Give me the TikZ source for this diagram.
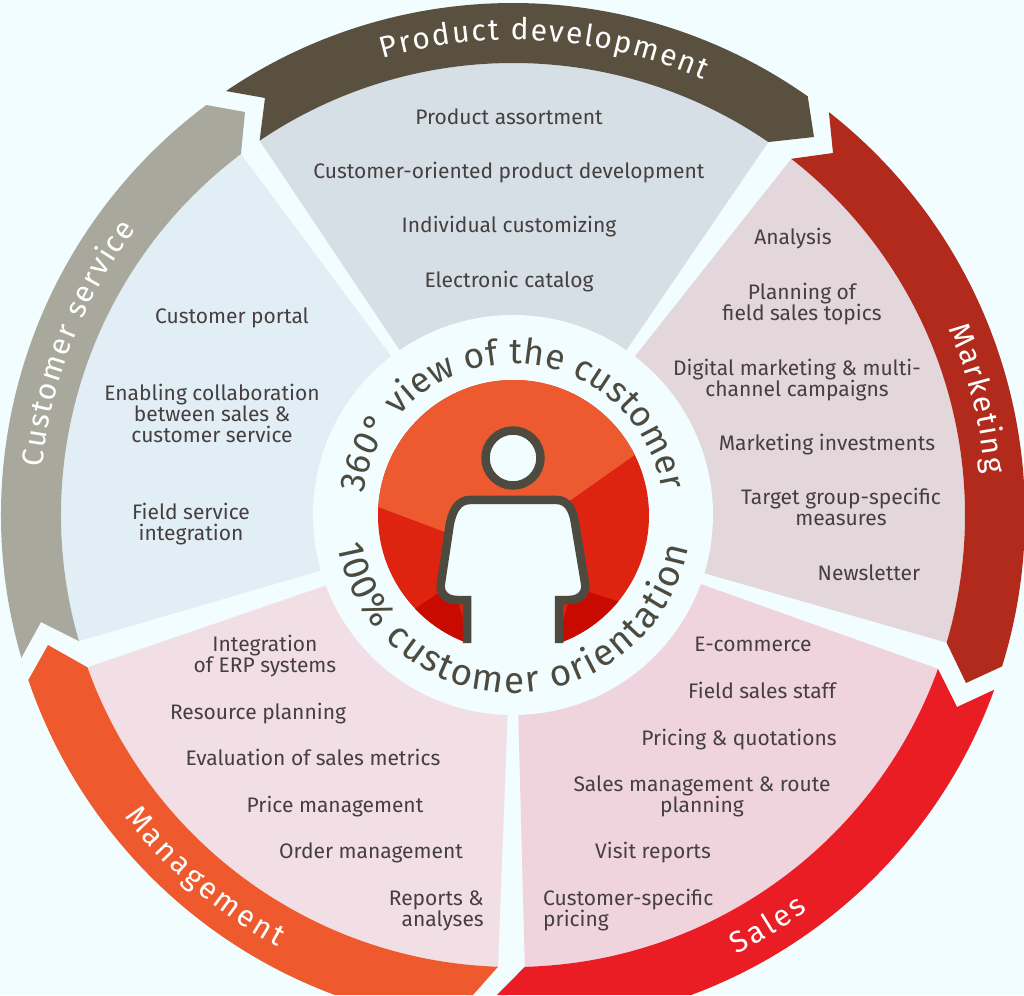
\documentclass[tikz,border=0pt]{standalone}
\usepackage{fontspec}
\setmainfont{Fira Sans}
\usetikzlibrary{positioning, decorations.text}

\definecolor{bgc}{HTML}{F2FDFF}
\definecolor{itemc}{HTML}{453F40}
\definecolor{darkc}{HTML}{4D4A3F}
\definecolor{prodc}{HTML}{5A503F}
\definecolor{markc}{HTML}{B12A1C}
\definecolor{salec}{HTML}{EA1C24}
\definecolor{mgmtc}{HTML}{EE5A2D}
\definecolor{servc}{HTML}{A8A89C}
\definecolor{prodp}{HTML}{D6DFE6}
\definecolor{markp}{HTML}{E3D7DC}
\definecolor{salep}{HTML}{EFD4DD}
\definecolor{mgmtp}{HTML}{F2DFE5}
\definecolor{servp}{HTML}{E2EEF6}
\definecolor{hubo}{HTML}{EE5A30}
\definecolor{hubm}{HTML}{DE2410}
\definecolor{hubd}{HTML}{C80A00}

\newcommand{\ringfont}{\fontsize{30}{30}\selectfont\color{white}}
\newcommand{\hubfont}{\fontsize{35.5}{36}\selectfont\color{darkc}}
\newcommand{\huband}{\fontsize{37}{37}\selectfont\color{darkc}}
\newcommand{\personpath}{(-46,-128) -- (-46,-85) -- (-56,-85)
  .. controls (-68,-85) and (-74,-77) .. (-72,-68) -- (-63,-8)
  .. controls (-60,6) and (-54,15) .. (-43,15) -- (44,15)
  .. controls (54,15) and (60,6) .. (62,-8) -- (72,-68)
  .. controls (74,-77) and (68,-85) .. (56,-85) -- (46,-85) -- (46,-128)}

\tikzset{
  item/.style={text=itemc, font=\fontsize{21}{21}\selectfont, align=center, inner sep=0pt, anchor=base},
  ringlabel/.style={decorate, decoration={text along path, text align={fit to path}, text={|\ringfont|#1}}},
  hublabel/.style={decorate, decoration={text along path, text align={fit to path}, text={|\hubfont|#1}}},
  hublower/.style={decorate, decoration={text along path, text align={fit to path}, text={|\huband|#1}}}
}

\begin{document}
\begin{tikzpicture}[x=1pt, y=1pt]
  \useasboundingbox (-513,-480) rectangle (511,515);
  \clip (-513,-480) rectangle (511,515);
  \fill[bgc] (-513,-480) rectangle (511,515);

  % Panels
  \fill[prodp] (124.1:452) arc[start angle=124.1, end angle=55.6, radius=452] -- (108,157) -- (-108,157) -- cycle;
  \fill[markp] (52:452) arc[start angle=52, end angle=-16.4, radius=452] -- (187,-57) -- (119,155) -- cycle;
  \fill[salep] (-19.9:452) arc[start angle=-19.9, end angle=-88.5, radius=452] -- (5,-190) -- (185,-68) -- cycle;
  \fill[mgmtp] (199.7:452) arc[start angle=199.7, end angle=268.1, radius=452] -- (-5,-190) -- (-180,-68) -- cycle;
  \fill[servp] (196.2:452) arc[start angle=196.2, end angle=127, radius=452] -- (-119,155) -- (-190,-55) -- cycle;

  % Ring arrows
  \fill[prodc] (124.1:512) arc[start angle=124.1, end angle=54.85, radius=512] -- (301,378)
    -- (55.6:452) arc[start angle=55.6, end angle=124.1, radius=452] -- (-248,417) -- cycle;
  \fill[markc] (51.9:512) arc[start angle=51.9, end angle=-17.2, radius=512] -- (453,-168)
    -- (-16.4:452) arc[start angle=-16.4, end angle=52, radius=452] -- (320,362) -- cycle;
  \fill[salec] (-19.95:512) arc[start angle=-19.95, end angle=-69.6, radius=512] -- (-16,-480)
    -- (-88.5:452) arc[start angle=-88.5, end angle=-19.9, radius=452] -- (444,-192) -- cycle;
  \fill[mgmtc] (198.8:512) arc[start angle=198.8, end angle=249.6, radius=512] -- (-40,-480)
    -- (268.1:452) arc[start angle=268.1, end angle=199.7, radius=452] -- (-465,-130) -- cycle;
  \fill[servc] (196.2:512) arc[start angle=196.2, end angle=126.8, radius=512] -- (-268,403)
    -- (127:452) arc[start angle=127, end angle=196.2, radius=452] -- (-472,-107) -- cycle;

  % Ring labels
  \path[ringlabel=Product development] (105.9:475) arc[start angle=105.9, end angle=66.4, radius=475];
  \path[ringlabel=Marketing] (23.2:474) arc[start angle=23.2, end angle=5, radius=474];
  \path[ringlabel=Sales] (-63.1:493) arc[start angle=-63.1, end angle=-53.3, radius=493];
  \path[ringlabel=Management] (217.8:492) arc[start angle=217.8, end angle=241.4, radius=492];
  \path[ringlabel=Customer service] (174.2:473) arc[start angle=174.2, end angle=142.8, radius=473];

  % Hub
  \fill[bgc] (0,0) circle[radius=200];
  \begin{scope}
    \clip (0.5,-0.5) circle[radius=135.5];
    \fill[hubm] (-140,-140) rectangle (140,140);
    \fill[hubo] (-140,10) -- (-68,-17) -- (55,13) -- (140,73) -- (140,140) -- (-140,140) -- cycle;
    \fill[hubd] (-110,-102) -- (-60,-68) -- (-40,-140) -- (-110,-140) -- cycle;
    \fill[hubd] (120,-91) -- (60,-72) -- (40,-140) -- (120,-140) -- cycle;
  \end{scope}
  \path[hublabel={360° view of the customer{\kern0.01pt}}] (172:151) arc[start angle=172, end angle=9, radius=151];
  \path[hublower={100{\%} customer orientation}] (189.7:178) arc[start angle=189.7, end angle=349.6, radius=178];

  % Person
  \fill[bgc] \personpath -- (46,-145) -- (-46,-145) -- cycle;
  \draw[darkc, line width=8.5pt] \personpath;
  \draw[darkc, line width=8.5pt, fill=bgc] (0,57) circle[radius=27.5];

  % Product development items
  \node (prod1) [item] at (-4,390) {Product assortment};
  \node (prod2) [item, below=54pt of prod1.base, anchor=base] {Customer-oriented product development};
  \node (prod3) [item, below=54pt of prod2.base, anchor=base] {Individual customizing};
  \node (prod4) [item, below=55pt of prod3.base, anchor=base] {Electronic catalog};

  % Marketing items
  \node (mark1) [item] at (280,270) {Analysis};
  \node (mark2) [item] at (289,194) {Planning of\\field sales topics};
  \node (mark3) [item] at (284,118) {Digital marketing \& multi-\\channel campaigns};
  \node (mark4) [item] at (314,64) {Marketing investments};
  \node (mark5) [item] at (328,-11) {Target group-specific\\measures};
  \node (mark6) [item] at (356,-65) {Newsletter};

  % Sales items
  \node (sale1) [item] at (240,-136) {E-commerce};
  \node (sale2) [item] at (249,-183) {Field sales staff};
  \node (sale3) [item] at (226,-230) {Pricing \& quotations};
  \node (sale4) [item] at (189,-297) {Sales management \& route\\planning};
  \node (sale5) [item] at (140,-343) {Visit reports};
  \node (sale6) [item, align=left, anchor=base west] at (30,-411) {Customer-specific\\pricing};

  % Management items
  \node (mgmt1) [item] at (-248,-157) {Integration\\of ERP systems};
  \node (mgmt2) [item] at (-255,-204) {Resource planning};
  \node (mgmt3) [item] at (-200,-250) {Evaluation of sales metrics};
  \node (mgmt4) [item] at (-178,-297) {Price management};
  \node (mgmt5) [item] at (-142,-343) {Order management};
  \node (mgmt6) [item, align=right, anchor=base east] at (-29,-411) {Reports \&\\analyses};

  % Customer service items
  \node (serv1) [item] at (-281,191) {Customer portal};
  \node (serv2) [item] at (-301,72) {Enabling collaboration\\between sales \&\\customer service};
  \node (serv3) [item] at (-322,-26) {Field service\\integration};
\end{tikzpicture}
\end{document}
